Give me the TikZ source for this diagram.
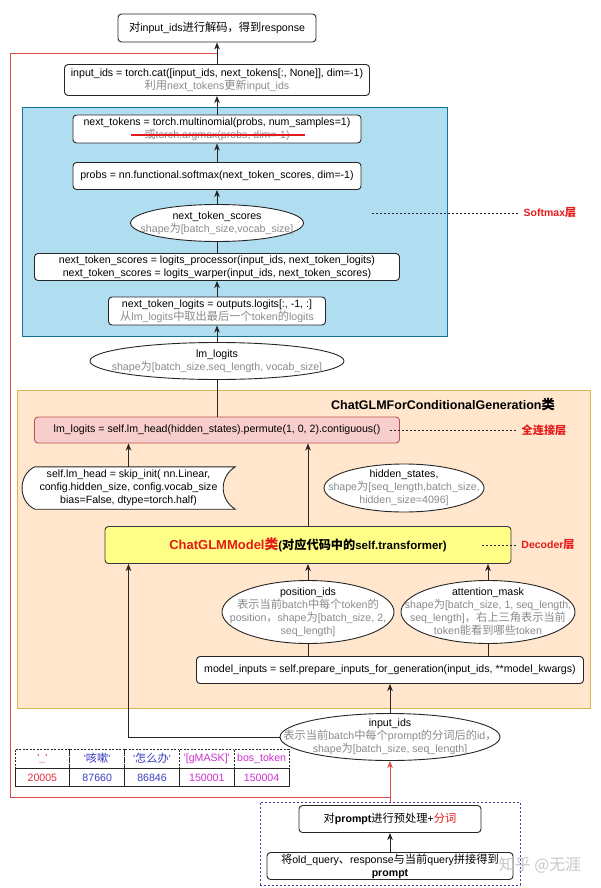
\documentclass[tikz,border=0pt]{standalone}
\usepackage{fontspec}
\setmainfont{Liberation Sans}
\newfontfamily\zhfont[Scale=1.06]{Noto Sans CJK SC}
\newcommand\zh[1]{{\zhfont #1}}
\newcommand\squote{\textquotesingle}
\usetikzlibrary{arrows.meta,shapes.geometric,calc}
\definecolor{linec}{HTML}{262626}
\definecolor{note}{HTML}{8A8A8A}
\definecolor{tred}{HTML}{E51A1A}
\definecolor{loopred}{HTML}{E34A4A}
\definecolor{bluefill}{HTML}{B1DDF0}
\definecolor{bluedraw}{HTML}{10739E}
\definecolor{orfill}{HTML}{FFE6CC}
\definecolor{ordraw}{HTML}{D6B656}
\definecolor{pinkfill}{HTML}{F8CECC}
\definecolor{pinkdraw}{HTML}{B85450}
\definecolor{yelfill}{HTML}{FFFF88}
\definecolor{yeldraw}{HTML}{36393D}
\definecolor{purp}{HTML}{4A3F9F}
\definecolor{tblue}{HTML}{3D3DC4}
\definecolor{tpink}{HTML}{D030D0}
\definecolor{tabred}{HTML}{E02E3C}
\definecolor{wm}{HTML}{BDBDBD}
\tikzset{
  box/.style={draw=linec, fill=white, rounded corners=3.5pt, line width=0.9pt, align=center,
    inner sep=1pt, font=\fontsize{10.6}{13}\selectfont},
  bubble/.style={ellipse, draw=linec, fill=white, line width=0.9pt, inner sep=0pt},
  txt/.style={align=center, inner sep=0pt, font=\fontsize{10.6}{13}\selectfont},
  flow/.style={draw=linec, line width=1pt, -{Stealth[length=7pt,width=5.5pt,inset=2pt]}},
  redflow/.style={draw=loopred, line width=1pt, -{Stealth[length=7pt,width=5.5pt,inset=2pt]}},
  redline/.style={draw=loopred, line width=1pt},
  link/.style={draw=linec, line width=1pt},
  guide/.style={draw=linec, line width=0.7pt, dash pattern=on 2pt off 2pt, shorten >=4pt},
  layer/.style={text=tred, font=\bfseries\fontsize{10.5}{12}\selectfont, inner sep=0pt},
  hcell/.style={draw=linec, fill=white, line width=0.8pt, dash pattern=on 2pt off 1.5pt,
    minimum width=54.8pt, minimum height=19pt, inner sep=0pt, font=\fontsize{10.6}{12}\selectfont},
  vcell/.style={draw=linec, fill=white, line width=0.9pt, minimum width=54.8pt,
    minimum height=18pt, inner sep=0pt, font=\fontsize{10.6}{12}\selectfont}
}
\begin{document}
\begin{tikzpicture}[x=1pt,y=-1pt]
\useasboundingbox (0,0) rectangle (600,888);
\filldraw[fill=bluefill, draw=bluedraw, line width=0.8pt] (22,107) rectangle (447,336);
\filldraw[fill=orfill, draw=ordraw, line width=0.8pt] (17,390) rectangle (590,708);

\node[box, minimum width=198pt, minimum height=28pt] (decode) at (217,28)
  {\zh{对}input\_ids\zh{进行解码，得到}response};
\node[box, minimum width=305pt, minimum height=31pt] (cat) at (217,80)
  {input\_ids = torch.cat([input\_ids, next\_tokens[:, None]], dim=-1)\\
   {\color{note}\zh{利用}next\_tokens\zh{更新}input\_ids}};
\node[box, minimum width=288pt, minimum height=28pt] (ntok) at (217,129)
  {next\_tokens = torch.multinomial(probs, num\_samples=1)\\
   {\color{note}\zh{或}torch.argmax(probs, dim=-1)}};
\draw[tred, line width=1.8pt] ($(ntok.center)+(-86,6)$) -- ($(ntok.center)+(88,6)$);
\node[box, minimum width=288pt, minimum height=27pt] (probs) at (217,176)
  {probs = nn.functional.softmax(next\_token\_scores, dim=-1)};
\node[bubble, minimum width=173pt, minimum height=37pt] (scores) at (217,223) {};
\node[txt] (scores-t) at (scores) {next\_token\_scores\\
  {\color{note}shape\zh{为}[batch\_size,vocab\_size]}};
\node[box, minimum width=365pt, minimum height=27pt] (proc) at (217,267)
  {next\_token\_scores = logits\_processor(input\_ids, next\_token\_logits)\\
   next\_token\_scores = logits\_warper(input\_ids, next\_token\_scores)};
\node[box, minimum width=217pt, minimum height=28pt] (ntl) at (217,311)
  {next\_token\_logits = outputs.logits[:, -1, :]\\
   {\color{note}\zh{从}lm\_logits\zh{中取出最后一个}token\zh{的}logits}};
\node[bubble, minimum width=254pt, minimum height=37pt] (lmlog) at (217,361) {};
\node[txt] (lmlog-t) at (lmlog) {lm\_logits\\
  {\color{note}shape\zh{为}[batch\_size,seq\_length, vocab\_size]}};
\node[layer] (lbl-softmax) at (550,213) {Softmax\zh{层}};

\node[font=\bfseries\fontsize{12.5}{14}\selectfont, inner sep=0pt] (title) at (443,404)
  {ChatGLMForConditionalGeneration\zh{类}};
\node[box, fill=pinkfill, draw=pinkdraw, minimum width=365pt, minimum height=26pt] (head) at (217,430)
  {lm\_logits = self.lm\_head(hidden\_states).permute(1, 0, 2).contiguous()};
\node[layer] (lbl-fc) at (544,430) {\zh{全连接层}};
\node[inner sep=0pt, minimum width=213pt, minimum height=42pt] (headinit) at (128.5,488) {};
\filldraw[fill=white, draw=linec, line width=0.9pt] ([xshift=13pt]headinit.north west) -- (headinit.north east)
  .. controls +(-16,10) and +(-16,-10) .. (headinit.south east) -- ([xshift=13pt]headinit.south west)
  .. controls +(-17,-8) and +(-17,8) .. ([xshift=13pt]headinit.north west) -- cycle;
\node[txt] (headinit-t) at (headinit) {self.lm\_head = skip\_init( nn.Linear,\\
  config.hidden\_size, config.vocab\_size\\ bias=False, dtype=torch.half)};
\node[bubble, minimum width=160pt, minimum height=48pt] (hs) at (404,488) {};
\node[txt] (hs-t) at (hs) {hidden\_states,\\
  {\color{note}shape\zh{为}[seq\_length,batch\_size,}\\ {\color{note}hidden\_size=4096]}};
\node[box, fill=yelfill, draw=yeldraw, minimum width=406pt, minimum height=37pt] (model) at (308,545)
  {{\color{tred}\bfseries\fontsize{13}{15}\selectfont ChatGLMModel\zh{类}}%
   {\bfseries\fontsize{11.5}{14}\selectfont(\zh{对应代码中的}self.transformer)}};
\node[layer] (lbl-dec) at (548,545) {Decoder\zh{层}};
\node[bubble, minimum width=172pt, minimum height=63pt] (pos) at (308,612) {};
\node[txt] (pos-t) at (pos) {position\_ids\\
  {\color{note}\zh{表示当前}batch\zh{中每个}token\zh{的}}\\
  {\color{note}position\zh{，}shape\zh{为}[batch\_size, 2,}\\
  {\color{note}seq\_length]}};
\node[bubble, minimum width=174pt, minimum height=63pt] (att) at (488,612) {};
\node[txt] (att-t) at (att) {attention\_mask\\
  {\color{note}shape\zh{为}[batch\_size, 1, seq\_length,}\\
  {\color{note}seq\_length]\zh{，右上三角表示当前}}\\
  {\color{note}token\zh{能看到哪些}token}};
\node[box, minimum width=387pt, minimum height=27pt] (mi) at (390,670)
  {model\_inputs = self.prepare\_inputs\_for\_generation(input\_ids, **model\_kwargs)};

\node[bubble, minimum width=220pt, minimum height=47pt] (inp) at (390,737) {};
\node[txt] (inp-t) at (inp) {input\_ids\\
  {\color{note}\zh{表示当前}batch\zh{中每个}prompt\zh{的分词后的}id\zh{，}}\\
  {\color{note}shape\zh{为}[batch\_size, seq\_length]}};

\foreach \i/\tok/\id/\col in {1/{\squote\textbf{\_}\squote}/20005/tabred,
    2/{\squote\zh{咳嗽}\squote}/87660/tblue, 3/{\squote\zh{怎么办}\squote}/86846/tblue,
    4/{\squote[gMASK]\squote}/150001/tpink, 5/{bos\_token}/150004/tpink}{
  \node[hcell, text=\col] (tok-\i) at ({15+54.8*(\i-0.5)},758.5) {\tok};
  \node[vcell, text=\col, anchor=north] (id-\i) at (tok-\i.south) {\id};
}

\node[draw=purp, line width=0.9pt, dash pattern=on 2pt off 2pt, minimum width=260pt,
  minimum height=83pt, inner sep=0pt] (prompt) at (390,843.5) {};
\node[box, minimum width=182pt, minimum height=27pt] (prep) at (390,819)
  {\zh{对}\textbf{prompt}\zh{进行预处理}+{\color{tred}\zh{分词}}};
\node[box, minimum width=246pt, minimum height=27pt] (concat) at (390,866)
  {\zh{将}old\_query\zh{、}response\zh{与当前}query\zh{拼接得到}\\ \textbf{prompt}};

\draw[flow] (cat.north) -- (decode.south);
\draw[flow] (ntok.north) -- (cat.south);
\draw[flow] (probs.north) -- (ntok.south);
\draw[flow] (scores.north) -- (probs.south);
\draw[link] (proc.north) -- (scores.south);
\draw[flow] (ntl.north) -- (proc.south);
\draw[flow] (lmlog.north) -- (ntl.south);
\draw[link] (head.north) -- (lmlog.south);
\draw[flow] (headinit.north) -- (headinit.north |- head.south);
\draw[flow] (model.north) -- (model.north |- head.south);
\draw[flow] (pos.north) -- (pos.north |- model.south);
\draw[flow] (att.north) -- (att.north |- model.south);
\draw[link] (mi.north -| pos.south) -- (pos.south);
\draw[link] (mi.north -| att.south) -- (att.south);
\draw[flow] (inp.north) -- (mi.south);
\coordinate (bend) at (headinit.north |- inp.west);
\draw[flow] (inp.west) -- (bend) -- (bend |- model.south);
\draw[flow] (concat.north) -- (prep.south);
\draw[redflow] (prompt.north) -- (inp.south);
\coordinate (loop-in) at (390,797);
\coordinate (loop-up) at (10,54);
\draw[redline] (loop-in) -| (loop-up) -- (loop-up -| decode.south);

\coordinate (sm-from) at (372,213);
\draw[guide] (sm-from) -- (lbl-softmax.west);
\coordinate (fc-from) at (390,430);
\draw[guide] (fc-from) -- (lbl-fc.west);
\coordinate (dec-from) at (482,545);
\draw[guide] (dec-from) -- (lbl-dec.west);

\node[text=wm, opacity=0.85, font=\zhfont\fontsize{15}{15}\selectfont, inner sep=0pt] (watermark) at (540,865) {知乎 @无涯};
\end{tikzpicture}
\end{document}
